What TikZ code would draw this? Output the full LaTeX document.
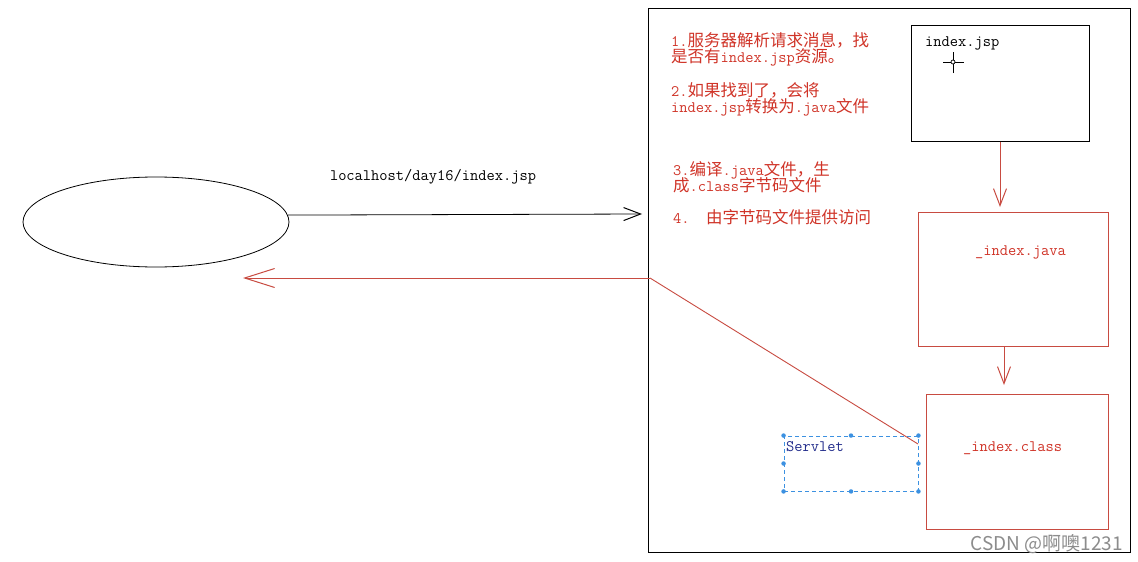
\documentclass[tikz,border=0pt]{standalone}
\usepackage{fontspec}
\newfontfamily\cjk{Noto Sans CJK SC}
\usetikzlibrary{arrows.meta,shapes.geometric}
\definecolor{tred}{RGB}{208,52,40}
\definecolor{lred}{RGB}{200,75,65}
\definecolor{sblue}{RGB}{60,145,225}
\definecolor{dblue}{RGB}{35,45,140}
\newcommand\zh[1]{{\cjk\fontsize{16.5}{17}\selectfont #1}}
\begin{document}
\begin{tikzpicture}[x=1pt,y=-1pt,
  mono/.style={font=\ttfamily\fontsize{16}{17}\selectfont, inner sep=0pt},
  rtxt/.style={mono, text=tred, anchor=base west},
  rbox/.style={draw=lred, line width=1pt},
  bbox/.style={draw=black, line width=1pt},
  headS/.style={-{Straight Barb[length=17pt,width=13pt,line width=1pt]}},
  headL/.style={-{Straight Barb[length=30pt,width=19pt,line width=1pt]}},
  handle/.style={circle, fill=sblue, inner sep=0pt, minimum size=4.5pt}]
\useasboundingbox (0,0) rectangle (1138,562);
\fill[white] (0,0) rectangle (1138,562);

% client ellipse
\node[ellipse, draw=black, line width=0.8pt, minimum width=266pt, minimum height=90pt, inner sep=0pt] (ell) at (156,222) {};

% server frame
\node[bbox, minimum width=482pt, minimum height=544pt, inner sep=0pt] (frame) at (889,280) {};

% request arrow
\coordinate (reqEnd) at (642,214);
\draw[black, line width=0.8pt, headS] (ell.3.5) -- (reqEnd);
\node[mono, text=black] (url) at (433,177) {localhost/day16/index.jsp};

% boxes
\node[bbox, minimum width=178pt, minimum height=116pt, inner sep=0pt] (jsp) at (1000,83) {};
\node[mono, text=black, anchor=base west] (jsptxt) at (925,46) {index.jsp};
\coordinate (cross) at (953,62);
\draw[black, line width=0.9pt] ([xshift=-10pt]cross) -- ([xshift=11pt]cross);
\draw[black, line width=0.9pt] ([yshift=-11pt]cross) -- ([yshift=10pt]cross);
\draw[black, fill=white, line width=0.7pt] (cross) circle (2pt);

\node[rbox, minimum width=190pt, minimum height=134pt, inner sep=0pt] (java) at (1013,279) {};
\node[mono, text=tred, anchor=base west] (javatxt) at (975,255) {\_index.java};

\node[rbox, minimum width=182pt, minimum height=135pt, inner sep=0pt] (cls) at (1017,461.5) {};
\node[mono, text=tred, anchor=base west] (clstxt) at (963,451) {\_index.class};

\draw[lred, line width=1pt, headS] (jsp.south -| 1000,0) -- (1000,207);
\draw[lred, line width=1pt, headS] (java.south -| 1004,0) -- (1004,385);

% Servlet dashed box
\node[draw=sblue, dashed, dash pattern=on 4pt off 3pt, line width=0.9pt, minimum width=134pt, minimum height=55pt, inner sep=0pt] (srv) at (851,463.5) {};
\foreach \a in {north west,north,north east,east,south east,south,south west,west}
  \node[handle] at (srv.\a) {};
\node[mono, text=dblue, anchor=base west] (srvtxt) at (786,451) {Servlet};

% response
\coordinate (respStart) at (650,278);
\coordinate (respEnd) at (243,278);
\coordinate (srvHit) at (918,444);
\draw[lred, line width=1pt, headL] (respStart) -- (respEnd);
\draw[lred, line width=0.9pt] (respStart) -- (srvHit);

% red explanation texts
\node[rtxt] (t1) at (671,46) {1.\zh{服务器解析请求消息，找}};
\node[rtxt] (t2) at (671,62) {\zh{是否有}index.jsp\zh{资源。}};
\node[rtxt] (t3) at (671,96) {2.\zh{如果找到了，会将}};
\node[rtxt] (t4) at (671,112) {index.jsp\zh{转换为}.java\zh{文件}};
\node[rtxt] (t5) at (673,175) {3.\zh{编译}.java\zh{文件，生}};
\node[rtxt] (t6) at (673,191) {\zh{成}.class\zh{字节码文件}};
\node[rtxt] (t7) at (673,223) {4.\ \ \zh{由字节码文件提供访问}};

% watermark
\node[font=\cjk\fontsize{19}{20}\selectfont, text=black!45, anchor=base east, inner sep=0pt] (wm) at (1123,550) {CSDN @啊噢1231};
\end{tikzpicture}
\end{document}
